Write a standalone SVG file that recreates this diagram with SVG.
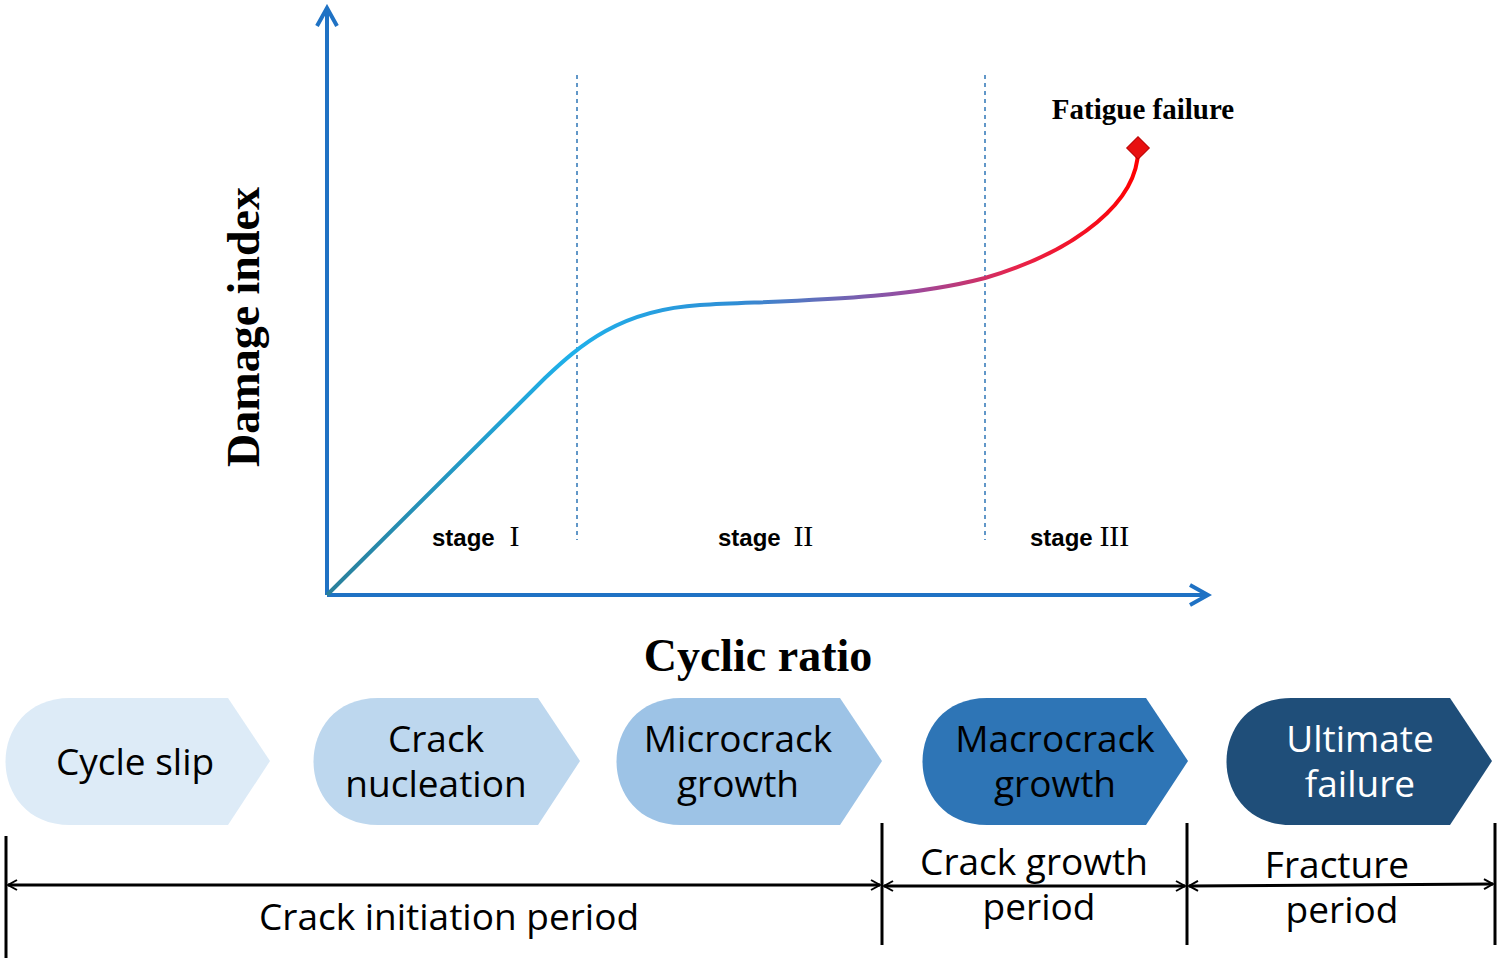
<svg xmlns="http://www.w3.org/2000/svg" width="1500" height="965" viewBox="0 0 1500 965">
<style>
.ax{stroke:#1F72C4;stroke-width:4;fill:none}
.dash{stroke:#2E75B6;stroke-width:1.5;stroke-dasharray:4,4}
.st{font-family:"Liberation Sans",sans-serif;font-weight:bold;font-size:24px;fill:#000}
.rom{font-family:"Liberation Serif",serif;font-size:30px}
.lbl{font-family:"Open Sans","Noto Sans",sans-serif;font-size:37px;text-anchor:middle}
.per{stroke:#000;stroke-width:3;fill:none}
</style>
<defs>
<linearGradient id="g" gradientUnits="userSpaceOnUse" x1="327" y1="0" x2="1140" y2="0">
<stop offset="0" stop-color="#2A7F9A"/><stop offset="0.3" stop-color="#1FB0EA"/><stop offset="0.5" stop-color="#2E8FD6"/><stop offset="0.72" stop-color="#9A4A9E"/><stop offset="0.85" stop-color="#E8234A"/><stop offset="1" stop-color="#FF0000"/>
</linearGradient>
<marker id="ah" markerWidth="12" markerHeight="12" refX="10" refY="6" orient="auto-start-reverse" markerUnits="userSpaceOnUse"><path d="M1,1 L10,6 L1,11" fill="none" stroke="#000" stroke-width="2"/></marker>
<marker id="bh" markerWidth="24" markerHeight="24" refX="20" refY="12" orient="auto" markerUnits="userSpaceOnUse"><path d="M2,2 L20,12 L2,22" fill="none" stroke="#1F72C4" stroke-width="4"/></marker>
</defs>
<g id="axes">
<line class="ax" x1="327" y1="595" x2="327" y2="8" marker-end="url(#bh)"/>
<line class="ax" x1="327" y1="595" x2="1208" y2="595" marker-end="url(#bh)"/>
<line class="dash" x1="577" y1="75" x2="577" y2="540"/>
<line class="dash" x1="985" y1="75" x2="985" y2="540"/>
</g>
<path id="curve" d="M327,595 L545,378 C580,345 620,310 700,305 C800,300 900,300 985,278 C1080,250 1138,200 1138,150" stroke="url(#g)" stroke-width="4" fill="none"/>
<rect id="failpt" x="1130" y="140" width="16" height="16" fill="#E81010" stroke="#B00" transform="rotate(45 1138 148)"/>
<text class="st" x="1143" y="119" text-anchor="middle" style="font-family:'Liberation Serif',serif;font-size:29px">Fatigue failure</text>
<text class="st" x="432" y="546">stage <tspan class="rom" font-weight="normal" dx="8">I</tspan></text>
<text class="st" x="718" y="546">stage <tspan class="rom" font-weight="normal" dx="6">II</tspan></text>
<text class="st" x="1030" y="546">stage <tspan class="rom" font-weight="normal">III</tspan></text>
<text x="758" y="671" text-anchor="middle" style="font-family:'Liberation Serif',serif;font-weight:bold;font-size:46px">Cyclic ratio</text>
<text transform="translate(259,327) rotate(-90)" text-anchor="middle" style="font-family:'Liberation Serif',serif;font-weight:bold;font-size:46px">Damage index</text>
<g id="n1"><path d="M70,698 L228,698 L270,761 L228,825 L70,825 C-16,825 -16,698 70,698Z" fill="#DDEBF7"/><text class="lbl" x="135" y="775">Cycle slip</text></g>
<g id="n2"><path d="M378,698 L538,698 L580,761 L538,825 L378,825 C292,825 292,698 378,698Z" fill="#BDD7EE"/><text class="lbl" x="436" y="752">Crack</text><text class="lbl" x="436" y="797">nucleation</text></g>
<g id="n3"><path d="M681,698 L840,698 L882,761 L840,825 L681,825 C595,825 595,698 681,698Z" fill="#9DC3E6"/><text class="lbl" x="738" y="752">Microcrack</text><text class="lbl" x="738" y="797">growth</text></g>
<g id="n4"><path d="M987,698 L1146,698 L1188,761 L1146,825 L987,825 C901,825 901,698 987,698Z" fill="#2E75B6"/><text class="lbl" x="1055" y="752">Macrocrack</text><text class="lbl" x="1055" y="797">growth</text></g>
<g id="n5"><path d="M1291,698 L1450,698 L1492,761 L1450,825 L1291,825 C1205,825 1205,698 1291,698Z" fill="#1F4E79"/><text class="lbl" x="1360" y="752" fill="#fff">Ultimate</text><text class="lbl" x="1360" y="797" fill="#fff">failure</text></g>
<g id="periods">
<line class="per" x1="6" y1="836" x2="6" y2="958"/>
<line class="per" x1="882" y1="823" x2="882" y2="945"/>
<line class="per" x1="1187" y1="823" x2="1187" y2="945"/>
<line class="per" x1="1495" y1="823" x2="1495" y2="945"/>
<line class="per" x1="8" y1="885" x2="880" y2="885" marker-start="url(#ah)" marker-end="url(#ah)" stroke-width="2"/>
<line class="per" x1="884" y1="886" x2="1185" y2="886" marker-start="url(#ah)" marker-end="url(#ah)" stroke-width="2"/>
<line class="per" x1="1189" y1="886" x2="1493" y2="884" marker-start="url(#ah)" marker-end="url(#ah)" stroke-width="2"/>
</g>
<text class="lbl" x="449" y="930">Crack initiation period</text>
<text class="lbl" x="1034" y="875">Crack growth</text>
<text class="lbl" x="1039" y="920">period</text>
<text class="lbl" x="1337" y="878">Fracture</text>
<text class="lbl" x="1342" y="923">period</text>
</svg>
